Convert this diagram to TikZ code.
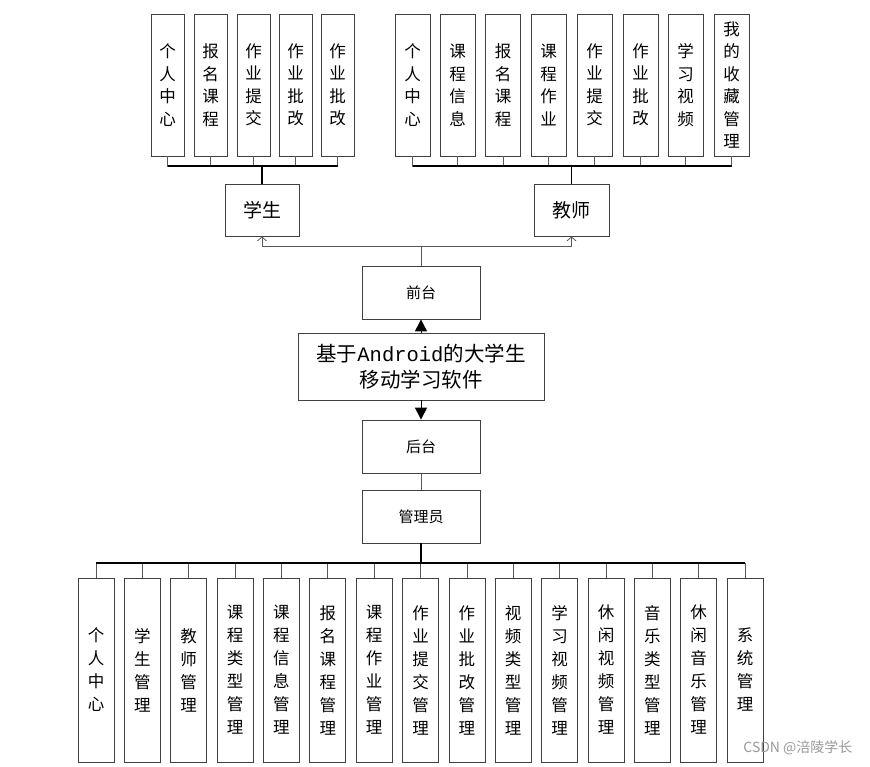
\documentclass[tikz,border=0pt]{standalone}
\usepackage{fontspec}
\setmainfont{Noto Sans CJK SC}
\newfontfamily\monofnt{Liberation Mono}
\usetikzlibrary{arrows.meta}
\tikzset{
  box/.style={draw=black!75, line width=0.8pt, fill=white, inner sep=0pt, align=center},
  vbox/.style={box, minimum height=142pt, font=\fontsize{16.5}{22.5}\selectfont},
  bvbox/.style={box, minimum width=36pt, minimum height=184pt, font=\fontsize{16.5}{23}\selectfont},
  stub/.style={draw=black!65, line width=0.8pt},
  bus/.style={draw=black, line width=1.3pt},
  trunk/.style={draw=black, line width=1.6pt},
  openarr/.style={draw=black!65, line width=0.8pt, -{Straight Barb[length=4pt,width=9pt]}},
  fillarr/.style={draw=black, line width=1pt, -{Triangle[length=12pt,width=12pt]}}
}
\begin{document}
\begin{tikzpicture}[x=1pt,y=-1pt]
\useasboundingbox (0,0) rectangle (870,767);
% student leaves
\node[vbox, minimum width=33pt] (s1) at (167.5,85) {个\\人\\中\\心};
\node[vbox, minimum width=33pt] (s2) at (210.5,85) {报\\名\\课\\程};
\node[vbox, minimum width=33pt] (s3) at (253.5,85) {作\\业\\提\\交};
\node[vbox, minimum width=33pt] (s4) at (295.5,85) {作\\业\\批\\改};
\node[vbox, minimum width=33pt] (s5) at (337.5,85) {作\\业\\批\\改};
% teacher leaves
\node[vbox, minimum width=35pt] (t1) at (412.5,85) {个\\人\\中\\心};
\node[vbox, minimum width=35pt] (t2) at (457.5,85) {课\\程\\信\\息};
\node[vbox, minimum width=35pt] (t3) at (503,85) {报\\名\\课\\程};
\node[vbox, minimum width=35pt] (t4) at (548.5,85) {课\\程\\作\\业};
\node[vbox, minimum width=35pt] (t5) at (594.5,85) {作\\业\\提\\交};
\node[vbox, minimum width=35pt] (t6) at (640.5,85) {作\\业\\批\\改};
\node[vbox, minimum width=35pt] (t7) at (685.5,85) {学\\习\\视\\频};
\node[vbox, minimum width=35pt] (t8) at (731.5,85) {我\\的\\收\\藏\\管\\理};
% roles
\node[box, minimum width=74pt, minimum height=52pt, font=\fontsize{19}{22}\selectfont] (stu) at (262,210) {学生};
\node[box, minimum width=75pt, minimum height=52pt, font=\fontsize{19}{22}\selectfont] (tea) at (571.5,210) {教师};
\node[box, minimum width=118pt, minimum height=53pt, font=\fontsize{15}{18}\selectfont] (qian) at (421,292.5) {前台};
\node[box, minimum width=246pt, minimum height=67pt, font=\fontsize{20.5}{26}\selectfont] (main) at (421,366.5) {基于{\monofnt Android}的大学生\\移动学习软件};
\node[box, minimum width=118pt, minimum height=53pt, font=\fontsize{15}{18}\selectfont] (hou) at (421,446.5) {后台};
\node[box, minimum width=118pt, minimum height=53pt, font=\fontsize{15}{18}\selectfont] (adm) at (421,516.5) {管理员};
% admin leaves
\node[bvbox] (a1) at (96.0,670) {个\\人\\中\\心};
\node[bvbox] (a2) at (142.4,670) {学\\生\\管\\理};
\node[bvbox] (a3) at (188.7,670) {教\\师\\管\\理};
\node[bvbox] (a4) at (235.1,670) {课\\程\\类\\型\\管\\理};
\node[bvbox] (a5) at (281.4,670) {课\\程\\信\\息\\管\\理};
\node[bvbox] (a6) at (327.8,670) {报\\名\\课\\程\\管\\理};
\node[bvbox] (a7) at (374.2,670) {课\\程\\作\\业\\管\\理};
\node[bvbox] (a8) at (420.5,670) {作\\业\\提\\交\\管\\理};
\node[bvbox] (a9) at (466.9,670) {作\\业\\批\\改\\管\\理};
\node[bvbox] (a10) at (513.2,670) {视\\频\\类\\型\\管\\理};
\node[bvbox] (a11) at (559.6,670) {学\\习\\视\\频\\管\\理};
\node[bvbox] (a12) at (606.0,670) {休\\闲\\视\\频\\管\\理};
\node[bvbox] (a13) at (652.3,670) {音\\乐\\类\\型\\管\\理};
\node[bvbox] (a14) at (698.7,670) {休\\闲\\音\\乐\\管\\理};
\node[bvbox] (a15) at (745.0,670) {系\\统\\管\\理};
% watermark
\node[text=black!40, font=\fontsize{14}{16}\selectfont, anchor=east] (wm) at (856,748) {CSDN @涪陵学长};
% bus points
\coordinate (sb) at (262,166);
\coordinate (tb) at (571.5,166);
\coordinate (fb) at (421,246);
\coordinate (ab) at (421,563);
% student tree
\foreach \i in {1,...,5} { \draw[stub] (s\i.south) |- (sb); }
\draw[bus] (s1.south |- sb) -- (s5.south |- sb);
\draw[trunk] (sb) -- (stu.north);
% teacher tree
\foreach \i in {1,...,8} { \draw[stub] (t\i.south) |- (tb); }
\draw[bus] (t1.south |- tb) -- (t8.south |- tb);
\draw[trunk] (tb) -- (tea.north);
% front end
\draw[openarr] (qian.north) -- (fb) -| (stu.south);
\draw[openarr] (fb) -| (tea.south);
\draw[fillarr] (main.north) -- (qian.south);
\draw[fillarr] (main.south) -- (hou.north);
\draw[stub] (hou.south) -- (adm.north);
% admin tree
\draw[trunk] (adm.south) -- (ab);
\foreach \i in {1,...,15} { \draw[stub] (a\i.north) |- (ab); }
\draw[bus] (a1.north |- ab) -- (a15.north |- ab);
\end{tikzpicture}
\end{document}
